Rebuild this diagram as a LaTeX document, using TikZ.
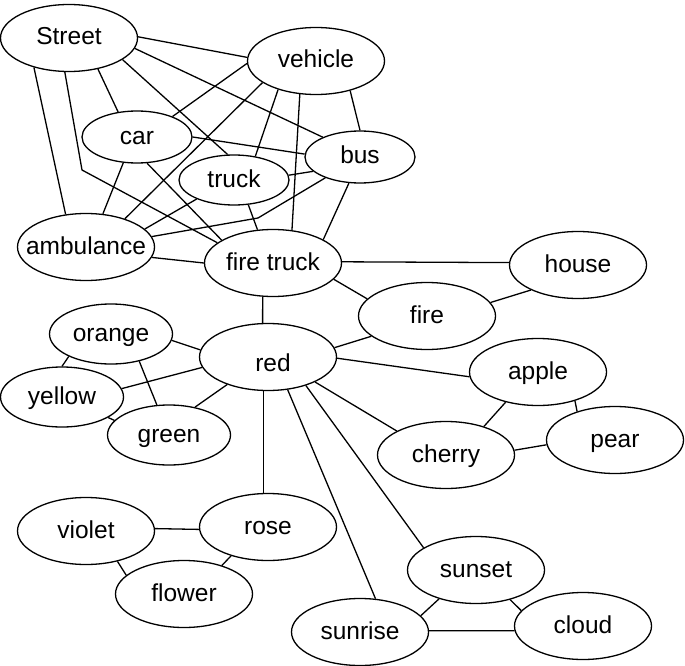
\documentclass[tikz,border=0pt]{standalone}
\usepackage{fontspec}
\setmainfont{Liberation Sans}
\usetikzlibrary{shapes.geometric}
\newcommand\wl[1]{\makebox[0pt]{#1}}
\tikzset{
  big/.style={draw, ellipse, line width=1.3pt, minimum width=137pt, minimum height=67pt,
    inner sep=0pt, text height=16pt, text depth=2pt, font=\fontsize{24.5}{29}\selectfont},
  small/.style={big, minimum width=110pt, minimum height=52pt},
  mid/.style={big, minimum width=123pt, minimum height=60pt},
  link/.style={line width=1.3pt}
}
\begin{document}
\begin{tikzpicture}[x=1pt,y=-1pt]
\useasboundingbox (0,0) rectangle (685,666);
% nodes
\node[big]   (street)  at (69,38)   {\wl{Street}};
\node[big]   (vehicle) at (316,61)  {\wl{vehicle}};
\node[small] (car)     at (137,137) {\wl{car}};
\node[small] (bus)     at (360,157) {\wl{bus}};
\node[small, minimum height=50pt] (truck) at (234,180) {\wl{truck}};
\node[big]   (amb)     at (86,247)  {\wl{ambulance}};
\node[big]   (ft)      at (273,263) {\wl{fire truck}};
\node[big]   (house)   at (578,265) {\wl{house}};
\node[big]   (fire)    at (427,316) {\wl{fire}};
\node[mid]   (orange)  at (111,334) {\wl{orange}};
\node[big]   (red)     at (268,357) {\wl{\hspace{10pt}\raisebox{-7pt}{red}}};
\node[big]   (apple)   at (538,372) {\wl{apple}};
\node[mid]   (yellow)  at (62,397)  {\wl{yellow}};
\node[mid]   (green)   at (169,435) {\wl{green}};
\node[big]   (cherry)  at (446,455) {\wl{cherry}};
\node[big]   (pear)    at (615,440) {\wl{pear}};
\node[big]   (violet)  at (86,531)  {\wl{violet}};
\node[big]   (rose)    at (268,527) {\wl{rose}};
\node[big]   (flower)  at (184,594) {\wl{flower}};
\node[big]   (sunset)  at (476,570) {\wl{sunset}};
\node[big]   (sunrise) at (360,632) {\wl{sunrise}};
\node[big]   (cloud)   at (583,626) {\wl{cloud}};
\coordinate (b1) at (82,170);
\coordinate (b2) at (258,218);
% connectors
\draw[link] (street.1) -- (vehicle.177);
\draw[link] (street.-9.5) -- (bus.152);
\draw[link] (street.-22.5) -- (truck.104);
\draw[link] (street.-47) -- (car.127);
\draw[link] (street.263) -- (b1) -- (ft.160);
\draw[link] (street.220) -- (amb.122);
\draw[link] (vehicle.182) -- (car.30);
\draw[link] (vehicle.202) -- (amb.36);
\draw[link] (vehicle.217) -- (truck.48);
\draw[link] (vehicle.244) -- (ft.60);
\draw[link] (vehicle.-41) -- (bus.90);
\draw[link] (car.0) -- (bus.177);
\draw[link] (car.242) -- (amb.63);
\draw[link] (car.-69) -- (ft.156);
\draw[link] (truck.5) -- (bus.197);
\draw[link] (truck.207) -- (amb.17);
\draw[link] (truck.-60) -- (ft.115);
\draw[link] (bus.211) -- (b2) -- (amb.9);
\draw[link] (bus.247) -- (ft.25);
\draw[link] (amb.-9) -- (ft.180);
\draw[link] (ft.1) -- (house.178);
\draw[link] (ft.-15) -- (fire.164);
\draw[link] (house.208) -- (fire.12);
\draw[link] (red.99) -- (ft.253);
\draw[link] (red.8) -- (fire.200);
\draw[link] (red.-1) -- (apple.184);
\draw[link] (red.-28) -- (cherry.154);
\draw[link] (apple.223) -- (cherry.37);
\draw[link] (apple.-38) -- (pear.143);
\draw[link] (cherry.4) -- (pear.184);
\draw[link] (orange.-6.5) -- (red.174);
\draw[link] (orange.208) -- (yellow.90);
\draw[link] (orange.-44) -- (green.112);
\draw[link] (yellow.8.5) -- (red.189);
\draw[link] (yellow.-24) -- (green.165);
\draw[link] (green.47) -- (red.214);
\draw[link] (red.262) -- (rose.98);
\draw[link] (red.-59) -- (sunrise.65);
\draw[link] (red.-37) -- (sunset.157);
\draw[link] (violet.2) -- (rose.182);
\draw[link] (violet.-44) -- (flower.162);
\draw[link] (rose.218) -- (flower.37);
\draw[link] (sunset.218) -- (sunrise.15);
\draw[link] (sunset.-41) -- (cloud.166);
\draw[link] (sunrise.1) -- (cloud.184);
\end{tikzpicture}
\end{document}
